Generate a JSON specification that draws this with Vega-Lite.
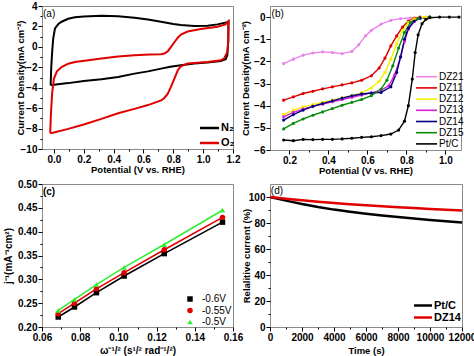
{
  "$schema": "https://vega.github.io/schema/vega-lite/v6.json",
  "padding": {"left": 2, "top": 0, "right": 0, "bottom": 0},
  "columns": 2,
  "spacing": {"row": 34, "column": 37},
  "bounds": "flush",
  "resolve": {
    "scale": {"color": "independent", "shape": "independent", "x": "independent", "y": "independent"},
    "legend": {"color": "independent", "shape": "independent"}
  },
  "config": {
    "font": "Liberation Sans",
    "view": {"stroke": "#8a8a8a", "strokeWidth": 1},
    "axis": {
      "grid": false, "domain": false, "tickColor": "black", "tickWidth": 1, "tickCount": 100,
      "labelOverlap": false, "labelBound": false, "labelFlush": false,
      "labelFont": "Liberation Sans", "labelFontWeight": "bold", "labelFontSize": 10, "labelColor": "black", "labelPadding": 1,
      "titleFont": "Liberation Sans", "titleFontWeight": "bold", "titleFontSize": 9.5, "titleColor": "black"
    },
    "legend": {"padding": 0, "labelFont": "Liberation Sans", "labelColor": "black", "titlePadding": 0}
  },
  "datasets": {
    "cv": [
      {"gas": "N₂", "i": 1, "v": -0.022, "j": -3.77},
      {"gas": "N₂", "i": 2, "v": -0.018, "j": -2.0},
      {"gas": "N₂", "i": 3, "v": -0.012, "j": -0.5},
      {"gas": "N₂", "i": 4, "v": -0.005, "j": 0.8},
      {"gas": "N₂", "i": 5, "v": 0.007, "j": 1.8},
      {"gas": "N₂", "i": 6, "v": 0.03, "j": 2.25},
      {"gas": "N₂", "i": 7, "v": 0.051, "j": 2.46},
      {"gas": "N₂", "i": 8, "v": 0.096, "j": 2.75},
      {"gas": "N₂", "i": 9, "v": 0.14, "j": 2.89},
      {"gas": "N₂", "i": 10, "v": 0.2, "j": 2.98},
      {"gas": "N₂", "i": 11, "v": 0.318, "j": 3.05},
      {"gas": "N₂", "i": 12, "v": 0.43, "j": 3.0},
      {"gas": "N₂", "i": 13, "v": 0.54, "j": 2.85},
      {"gas": "N₂", "i": 14, "v": 0.63, "j": 2.68},
      {"gas": "N₂", "i": 15, "v": 0.718, "j": 2.46},
      {"gas": "N₂", "i": 16, "v": 0.8, "j": 2.24},
      {"gas": "N₂", "i": 17, "v": 0.851, "j": 2.13},
      {"gas": "N₂", "i": 18, "v": 0.94, "j": 2.03},
      {"gas": "N₂", "i": 19, "v": 1.03, "j": 2.06},
      {"gas": "N₂", "i": 20, "v": 1.096, "j": 2.2},
      {"gas": "N₂", "i": 21, "v": 1.162, "j": 2.42},
      {"gas": "N₂", "i": 22, "v": 1.17, "j": 2.5},
      {"gas": "N₂", "i": 23, "v": 1.168, "j": 0.5},
      {"gas": "N₂", "i": 24, "v": 1.162, "j": -0.8},
      {"gas": "N₂", "i": 25, "v": 1.151, "j": -1.2},
      {"gas": "N₂", "i": 26, "v": 1.118, "j": -1.38},
      {"gas": "N₂", "i": 27, "v": 1.029, "j": -1.52},
      {"gas": "N₂", "i": 28, "v": 0.94, "j": -1.62},
      {"gas": "N₂", "i": 29, "v": 0.851, "j": -1.8},
      {"gas": "N₂", "i": 30, "v": 0.78, "j": -1.95},
      {"gas": "N₂", "i": 31, "v": 0.718, "j": -2.13},
      {"gas": "N₂", "i": 32, "v": 0.63, "j": -2.4},
      {"gas": "N₂", "i": 33, "v": 0.54, "j": -2.62},
      {"gas": "N₂", "i": 34, "v": 0.43, "j": -2.95},
      {"gas": "N₂", "i": 35, "v": 0.318, "j": -3.18},
      {"gas": "N₂", "i": 36, "v": 0.2, "j": -3.35},
      {"gas": "N₂", "i": 37, "v": 0.096, "j": -3.55},
      {"gas": "N₂", "i": 38, "v": 0.0, "j": -3.7},
      {"gas": "N₂", "i": 39, "v": -0.022, "j": -3.77},
      {"gas": "O₂", "i": 1, "v": -0.025, "j": -8.45},
      {"gas": "O₂", "i": 2, "v": -0.02, "j": -6.5},
      {"gas": "O₂", "i": 3, "v": -0.012, "j": -4.5},
      {"gas": "O₂", "i": 4, "v": 0.0, "j": -3.1},
      {"gas": "O₂", "i": 5, "v": 0.02, "j": -2.4},
      {"gas": "O₂", "i": 6, "v": 0.051, "j": -1.97},
      {"gas": "O₂", "i": 7, "v": 0.096, "j": -1.65},
      {"gas": "O₂", "i": 8, "v": 0.14, "j": -1.48},
      {"gas": "O₂", "i": 9, "v": 0.23, "j": -1.32},
      {"gas": "O₂", "i": 10, "v": 0.318, "j": -1.15},
      {"gas": "O₂", "i": 11, "v": 0.43, "j": -0.95},
      {"gas": "O₂", "i": 12, "v": 0.54, "j": -0.82},
      {"gas": "O₂", "i": 13, "v": 0.64, "j": -0.76},
      {"gas": "O₂", "i": 14, "v": 0.718, "j": -0.72},
      {"gas": "O₂", "i": 15, "v": 0.74, "j": -0.65},
      {"gas": "O₂", "i": 16, "v": 0.762, "j": -0.45},
      {"gas": "O₂", "i": 17, "v": 0.785, "j": 0.0},
      {"gas": "O₂", "i": 18, "v": 0.807, "j": 0.45},
      {"gas": "O₂", "i": 19, "v": 0.83, "j": 0.9},
      {"gas": "O₂", "i": 20, "v": 0.851, "j": 1.2},
      {"gas": "O₂", "i": 21, "v": 0.896, "j": 1.5},
      {"gas": "O₂", "i": 22, "v": 0.984, "j": 1.74},
      {"gas": "O₂", "i": 23, "v": 1.096, "j": 1.97},
      {"gas": "O₂", "i": 24, "v": 1.15, "j": 2.2},
      {"gas": "O₂", "i": 25, "v": 1.169, "j": 2.5},
      {"gas": "O₂", "i": 26, "v": 1.168, "j": 0.5},
      {"gas": "O₂", "i": 27, "v": 1.162, "j": -0.5},
      {"gas": "O₂", "i": 28, "v": 1.14, "j": -1.15},
      {"gas": "O₂", "i": 29, "v": 1.118, "j": -1.31},
      {"gas": "O₂", "i": 30, "v": 1.029, "j": -1.48},
      {"gas": "O₂", "i": 31, "v": 0.896, "j": -1.64},
      {"gas": "O₂", "i": 32, "v": 0.851, "j": -1.9},
      {"gas": "O₂", "i": 33, "v": 0.83, "j": -2.3},
      {"gas": "O₂", "i": 34, "v": 0.807, "j": -3.1},
      {"gas": "O₂", "i": 35, "v": 0.785, "j": -3.9},
      {"gas": "O₂", "i": 36, "v": 0.762, "j": -4.6},
      {"gas": "O₂", "i": 37, "v": 0.74, "j": -5.0},
      {"gas": "O₂", "i": 38, "v": 0.718, "j": -5.25},
      {"gas": "O₂", "i": 39, "v": 0.63, "j": -5.7},
      {"gas": "O₂", "i": 40, "v": 0.54, "j": -6.07},
      {"gas": "O₂", "i": 41, "v": 0.43, "j": -6.5},
      {"gas": "O₂", "i": 42, "v": 0.318, "j": -7.05},
      {"gas": "O₂", "i": 43, "v": 0.2, "j": -7.6},
      {"gas": "O₂", "i": 44, "v": 0.096, "j": -8.03},
      {"gas": "O₂", "i": 45, "v": 0.0, "j": -8.38},
      {"gas": "O₂", "i": 46, "v": -0.025, "j": -8.45}
    ],
    "lsv": [
      {"s": "DZ21", "v": 0.17, "j": -2.1}, {"s": "DZ21", "v": 0.22, "j": -1.9}, {"s": "DZ21", "v": 0.27, "j": -1.72},
      {"s": "DZ21", "v": 0.32, "j": -1.62}, {"s": "DZ21", "v": 0.37, "j": -1.57}, {"s": "DZ21", "v": 0.42, "j": -1.6},
      {"s": "DZ21", "v": 0.47, "j": -1.65}, {"s": "DZ21", "v": 0.52, "j": -1.55}, {"s": "DZ21", "v": 0.555, "j": -1.25},
      {"s": "DZ21", "v": 0.59, "j": -0.85}, {"s": "DZ21", "v": 0.62, "j": -0.6}, {"s": "DZ21", "v": 0.67, "j": -0.32},
      {"s": "DZ21", "v": 0.72, "j": -0.15}, {"s": "DZ21", "v": 0.77, "j": -0.07}, {"s": "DZ21", "v": 0.82, "j": -0.04},
      {"s": "DZ21", "v": 0.87, "j": -0.02}, {"s": "DZ21", "v": 0.9, "j": -0.01},
      {"s": "DZ11", "v": 0.17, "j": -3.75}, {"s": "DZ11", "v": 0.22, "j": -3.6}, {"s": "DZ11", "v": 0.27, "j": -3.45},
      {"s": "DZ11", "v": 0.32, "j": -3.35}, {"s": "DZ11", "v": 0.37, "j": -3.24}, {"s": "DZ11", "v": 0.42, "j": -3.15},
      {"s": "DZ11", "v": 0.47, "j": -3.06}, {"s": "DZ11", "v": 0.52, "j": -2.97}, {"s": "DZ11", "v": 0.57, "j": -2.85},
      {"s": "DZ11", "v": 0.62, "j": -2.65}, {"s": "DZ11", "v": 0.66, "j": -2.3}, {"s": "DZ11", "v": 0.69, "j": -1.85},
      {"s": "DZ11", "v": 0.72, "j": -1.3}, {"s": "DZ11", "v": 0.75, "j": -0.85}, {"s": "DZ11", "v": 0.78, "j": -0.45},
      {"s": "DZ11", "v": 0.81, "j": -0.18}, {"s": "DZ11", "v": 0.84, "j": -0.05}, {"s": "DZ11", "v": 0.87, "j": 0.0},
      {"s": "DZ12", "v": 0.17, "j": -4.4}, {"s": "DZ12", "v": 0.22, "j": -4.2}, {"s": "DZ12", "v": 0.27, "j": -4.05},
      {"s": "DZ12", "v": 0.32, "j": -3.95}, {"s": "DZ12", "v": 0.37, "j": -3.85}, {"s": "DZ12", "v": 0.42, "j": -3.75},
      {"s": "DZ12", "v": 0.47, "j": -3.65}, {"s": "DZ12", "v": 0.52, "j": -3.55}, {"s": "DZ12", "v": 0.57, "j": -3.42},
      {"s": "DZ12", "v": 0.62, "j": -3.2}, {"s": "DZ12", "v": 0.66, "j": -2.9}, {"s": "DZ12", "v": 0.69, "j": -2.5},
      {"s": "DZ12", "v": 0.72, "j": -1.9}, {"s": "DZ12", "v": 0.75, "j": -1.2}, {"s": "DZ12", "v": 0.78, "j": -0.6},
      {"s": "DZ12", "v": 0.81, "j": -0.25}, {"s": "DZ12", "v": 0.84, "j": -0.08}, {"s": "DZ12", "v": 0.88, "j": -0.01},
      {"s": "DZ12", "v": 0.9, "j": 0.0},
      {"s": "DZ13", "v": 0.17, "j": -4.5}, {"s": "DZ13", "v": 0.22, "j": -4.3}, {"s": "DZ13", "v": 0.27, "j": -4.15},
      {"s": "DZ13", "v": 0.32, "j": -4.03}, {"s": "DZ13", "v": 0.37, "j": -3.93}, {"s": "DZ13", "v": 0.42, "j": -3.82},
      {"s": "DZ13", "v": 0.47, "j": -3.72}, {"s": "DZ13", "v": 0.52, "j": -3.62}, {"s": "DZ13", "v": 0.57, "j": -3.52},
      {"s": "DZ13", "v": 0.62, "j": -3.42}, {"s": "DZ13", "v": 0.67, "j": -3.3}, {"s": "DZ13", "v": 0.71, "j": -3.1},
      {"s": "DZ13", "v": 0.74, "j": -2.6}, {"s": "DZ13", "v": 0.77, "j": -1.8}, {"s": "DZ13", "v": 0.79, "j": -1.1},
      {"s": "DZ13", "v": 0.81, "j": -0.55}, {"s": "DZ13", "v": 0.84, "j": -0.2}, {"s": "DZ13", "v": 0.87, "j": -0.05},
      {"s": "DZ13", "v": 0.92, "j": 0.0},
      {"s": "DZ14", "v": 0.17, "j": -4.65}, {"s": "DZ14", "v": 0.22, "j": -4.4}, {"s": "DZ14", "v": 0.27, "j": -4.2},
      {"s": "DZ14", "v": 0.32, "j": -4.03}, {"s": "DZ14", "v": 0.37, "j": -3.9}, {"s": "DZ14", "v": 0.42, "j": -3.78},
      {"s": "DZ14", "v": 0.47, "j": -3.66}, {"s": "DZ14", "v": 0.52, "j": -3.55}, {"s": "DZ14", "v": 0.57, "j": -3.47},
      {"s": "DZ14", "v": 0.62, "j": -3.43}, {"s": "DZ14", "v": 0.67, "j": -3.4}, {"s": "DZ14", "v": 0.72, "j": -3.15},
      {"s": "DZ14", "v": 0.75, "j": -2.5}, {"s": "DZ14", "v": 0.77, "j": -1.8}, {"s": "DZ14", "v": 0.79, "j": -1.0},
      {"s": "DZ14", "v": 0.81, "j": -0.5}, {"s": "DZ14", "v": 0.84, "j": -0.18}, {"s": "DZ14", "v": 0.87, "j": -0.05},
      {"s": "DZ14", "v": 0.92, "j": 0.0},
      {"s": "DZ15", "v": 0.17, "j": -5.05}, {"s": "DZ15", "v": 0.22, "j": -4.8}, {"s": "DZ15", "v": 0.27, "j": -4.6},
      {"s": "DZ15", "v": 0.32, "j": -4.43}, {"s": "DZ15", "v": 0.37, "j": -4.28}, {"s": "DZ15", "v": 0.42, "j": -4.13},
      {"s": "DZ15", "v": 0.47, "j": -3.98}, {"s": "DZ15", "v": 0.52, "j": -3.85}, {"s": "DZ15", "v": 0.57, "j": -3.72},
      {"s": "DZ15", "v": 0.62, "j": -3.55}, {"s": "DZ15", "v": 0.67, "j": -3.25}, {"s": "DZ15", "v": 0.7, "j": -2.85},
      {"s": "DZ15", "v": 0.73, "j": -2.2}, {"s": "DZ15", "v": 0.76, "j": -1.4}, {"s": "DZ15", "v": 0.79, "j": -0.7},
      {"s": "DZ15", "v": 0.82, "j": -0.25}, {"s": "DZ15", "v": 0.86, "j": -0.06}, {"s": "DZ15", "v": 0.92, "j": 0.0},
      {"s": "Pt/C", "v": 0.17, "j": -5.55}, {"s": "Pt/C", "v": 0.22, "j": -5.58}, {"s": "Pt/C", "v": 0.27, "j": -5.52},
      {"s": "Pt/C", "v": 0.32, "j": -5.53}, {"s": "Pt/C", "v": 0.37, "j": -5.52}, {"s": "Pt/C", "v": 0.42, "j": -5.52},
      {"s": "Pt/C", "v": 0.47, "j": -5.5}, {"s": "Pt/C", "v": 0.52, "j": -5.47}, {"s": "Pt/C", "v": 0.57, "j": -5.43},
      {"s": "Pt/C", "v": 0.62, "j": -5.4}, {"s": "Pt/C", "v": 0.67, "j": -5.35}, {"s": "Pt/C", "v": 0.72, "j": -5.28},
      {"s": "Pt/C", "v": 0.76, "j": -5.1}, {"s": "Pt/C", "v": 0.79, "j": -4.7}, {"s": "Pt/C", "v": 0.81, "j": -4.0},
      {"s": "Pt/C", "v": 0.83, "j": -2.8}, {"s": "Pt/C", "v": 0.845, "j": -1.6}, {"s": "Pt/C", "v": 0.86, "j": -0.8},
      {"s": "Pt/C", "v": 0.88, "j": -0.3}, {"s": "Pt/C", "v": 0.9, "j": -0.1}, {"s": "Pt/C", "v": 0.92, "j": -0.03},
      {"s": "Pt/C", "v": 0.97, "j": 0.0}, {"s": "Pt/C", "v": 1.02, "j": 0.0}, {"s": "Pt/C", "v": 1.07, "j": 0.0}
    ],
    "kl": [
      {"s": "-0.6V", "w": 0.0685, "j": 0.221}, {"s": "-0.6V", "w": 0.077, "j": 0.242}, {"s": "-0.6V", "w": 0.0885, "j": 0.272},
      {"s": "-0.6V", "w": 0.103, "j": 0.307}, {"s": "-0.6V", "w": 0.124, "j": 0.354}, {"s": "-0.6V", "w": 0.1545, "j": 0.42},
      {"s": "-0.55V", "w": 0.0685, "j": 0.228}, {"s": "-0.55V", "w": 0.077, "j": 0.25}, {"s": "-0.55V", "w": 0.0885, "j": 0.28},
      {"s": "-0.55V", "w": 0.103, "j": 0.314}, {"s": "-0.55V", "w": 0.124, "j": 0.362}, {"s": "-0.55V", "w": 0.1545, "j": 0.43},
      {"s": "-0.5V", "w": 0.0685, "j": 0.235}, {"s": "-0.5V", "w": 0.077, "j": 0.258}, {"s": "-0.5V", "w": 0.0885, "j": 0.289},
      {"s": "-0.5V", "w": 0.103, "j": 0.325}, {"s": "-0.5V", "w": 0.124, "j": 0.373}, {"s": "-0.5V", "w": 0.1545, "j": 0.445}
    ],
    "stab": [
      {"s": "Pt/C", "t": 0, "r": 100}, {"s": "Pt/C", "t": 500, "r": 98.6}, {"s": "Pt/C", "t": 1000, "r": 97.2},
      {"s": "Pt/C", "t": 2000, "r": 94.6}, {"s": "Pt/C", "t": 3000, "r": 92.3}, {"s": "Pt/C", "t": 4000, "r": 90.3},
      {"s": "Pt/C", "t": 5000, "r": 88.6}, {"s": "Pt/C", "t": 6000, "r": 87.1}, {"s": "Pt/C", "t": 7000, "r": 85.8},
      {"s": "Pt/C", "t": 8000, "r": 84.6}, {"s": "Pt/C", "t": 9000, "r": 83.4}, {"s": "Pt/C", "t": 10000, "r": 82.3},
      {"s": "Pt/C", "t": 11000, "r": 81.3}, {"s": "Pt/C", "t": 12000, "r": 80.3},
      {"s": "DZ14", "t": 0, "r": 100}, {"s": "DZ14", "t": 1000, "r": 98.7}, {"s": "DZ14", "t": 2000, "r": 97.5},
      {"s": "DZ14", "t": 3000, "r": 96.4}, {"s": "DZ14", "t": 4000, "r": 95.4}, {"s": "DZ14", "t": 5000, "r": 94.5},
      {"s": "DZ14", "t": 6000, "r": 93.7}, {"s": "DZ14", "t": 7000, "r": 92.9}, {"s": "DZ14", "t": 8000, "r": 92.2},
      {"s": "DZ14", "t": 9000, "r": 91.5}, {"s": "DZ14", "t": 10000, "r": 90.8}, {"s": "DZ14", "t": 11000, "r": 90.2},
      {"s": "DZ14", "t": 12000, "r": 89.6}
    ],
    "labels": [
      {"p": "a", "text": "(a)"}, {"p": "b", "text": "(b)"}, {"p": "c", "text": "(c)"}, {"p": "d", "text": "(d)"}
    ]
  },
  "concat": [
    {
      "width": 191, "height": 143,
      "layer": [
        {
          "data": {"name": "cv"},
          "mark": {"type": "line", "strokeWidth": 2},
          "encoding": {
            "x": {"field": "v", "type": "quantitative", "scale": {"domain": [-0.08, 1.2], "nice": false, "zero": false},
                  "axis": {"values": [0, 0.1, 0.2, 0.3, 0.4, 0.5, 0.6, 0.7, 0.8, 0.9, 1.0, 1.1, 1.2], "tickCount": 100, "format": ".1f", "labelOverlap": false,
                           "labelExpr": "round(datum.value*10) % 2 == 0 ? datum.label : ''",
                           "tickSize": {"condition": {"test": "round(datum.value*10) % 2 != 0", "value": 2}, "value": 4},
                           "title": "Potential (V vs. RHE)", "titleY": 15}},
            "y": {"field": "j", "type": "quantitative", "scale": {"domain": [-10, 4], "nice": false, "zero": false},
                  "axis": {"values": [-10, -9, -8, -7, -6, -5, -4, -3, -2, -1, 0, 1, 2, 3, 4], "tickCount": 100, "format": "d", "labelOverlap": false,
                           "labelExpr": "abs(round(datum.value)) % 2 == 0 ? datum.label : ''",
                           "tickSize": {"condition": {"test": "abs(round(datum.value)) % 2 != 0", "value": 2}, "value": 4},
                           "title": "Current Density(mA cm⁻²)", "titleX": -17}},
            "color": {"field": "gas", "type": "nominal", "scale": {"domain": ["N₂", "O₂"], "range": ["#000000", "#e00000"]},
                      "legend": {"orient": "none", "legendX": 162, "legendY": 116.5, "title": null, "symbolType": "M-3,0H3", "symbolSize": 40, "symbolStrokeWidth": 2.5, "labelFontSize": 11, "labelFontWeight": "bold", "labelOffset": 6, "rowPadding": 3}},
            "order": {"field": "i", "type": "quantitative"}
          }
        },
        {
          "data": {"name": "labels"},
          "transform": [{"filter": "datum.p == 'a'"}],
          "mark": {"type": "text", "align": "left", "baseline": "middle", "fontSize": 10, "color": "black"},
          "encoding": {"x": {"datum": -0.073}, "y": {"datum": 3.26}, "text": {"field": "text"}}
        }
      ]
    },
    {
      "width": 191, "height": 144,
      "layer": [
        {
          "data": {"name": "lsv"},
          "mark": {"type": "line", "strokeWidth": 1.4, "point": {"filled": true, "size": 10}},
          "encoding": {
            "x": {"field": "v", "type": "quantitative", "scale": {"domain": [0.1, 1.08], "nice": false, "zero": false},
                  "axis": {"values": [0.2, 0.3, 0.4, 0.5, 0.6, 0.7, 0.8, 0.9, 1.0], "tickCount": 100, "format": ".1f", "labelOverlap": false,
                           "labelExpr": "round(datum.value*10) % 2 == 0 ? datum.label : ''",
                           "tickSize": {"condition": {"test": "round(datum.value*10) % 2 != 0", "value": 2}, "value": 4},
                           "title": "Potential (V vs. RHE)", "titleY": 15}},
            "y": {"field": "j", "type": "quantitative", "scale": {"domain": [-6, 0.5], "nice": false, "zero": false},
                  "axis": {"values": [-6, -5.5, -5, -4.5, -4, -3.5, -3, -2.5, -2, -1.5, -1, -0.5, 0], "tickCount": 100, "format": "d", "labelOverlap": false,
                           "labelExpr": "datum.value == round(datum.value) ? datum.label : ''",
                           "tickSize": {"condition": {"test": "datum.value != round(datum.value)", "value": 2}, "value": 4},
                           "title": "Current Density(mA cm⁻²)", "titleX": -20}},
            "color": {"field": "s", "type": "nominal",
                      "scale": {"domain": ["DZ21", "DZ11", "DZ12", "DZ13", "DZ14", "DZ15", "Pt/C"], "range": ["#ea86ea", "#e00000", "#f2f200", "#d81ed8", "#000080", "#0a8a0a", "#000000"]},
                      "legend": {"orient": "none", "legendX": 151.5, "legendY": 65.7, "title": null, "symbolType": "M-3,0H3", "symbolSize": 49, "symbolStrokeWidth": 1.6, "labelFontSize": 10, "labelOffset": 7.5, "rowPadding": 1.2}}
          }
        },
        {
          "data": {"name": "labels"},
          "transform": [{"filter": "datum.p == 'b'"}],
          "mark": {"type": "text", "align": "left", "baseline": "middle", "fontSize": 10, "color": "black"},
          "encoding": {"x": {"datum": 0.108}, "y": {"datum": 0.14}, "text": {"field": "text"}}
        }
      ]
    },
    {
      "width": 191, "height": 143,
      "layer": [
        {
          "data": {"name": "kl"},
          "transform": [{"filter": "datum.s == '-0.6V'"}],
          "mark": {"type": "line", "strokeWidth": 1.6, "color": "#000000"},
          "encoding": {
            "x": {"field": "w", "type": "quantitative", "scale": {"domain": [0.06, 0.16], "nice": false, "zero": false},
                  "axis": {"values": [0.06, 0.07, 0.08, 0.09, 0.1, 0.11, 0.12, 0.13, 0.14, 0.15, 0.16], "tickCount": 100, "format": ".2f", "labelOverlap": false,
                           "labelExpr": "round(datum.value*100) % 2 == 0 ? datum.label : ''",
                           "tickSize": {"condition": {"test": "round(datum.value*100) % 2 != 0", "value": 2}, "value": 4},
                           "title": "ω⁻¹/² (s¹/² rad⁻¹/²)", "titleY": 18, "titleFontSize": 10}},
            "y": {"field": "j", "type": "quantitative", "scale": {"domain": [0.2, 0.5], "nice": false, "zero": false},
                  "axis": {"values": [0.2, 0.225, 0.25, 0.275, 0.3, 0.325, 0.35, 0.375, 0.4, 0.425, 0.45, 0.475, 0.5], "tickCount": 100, "format": ".2f", "labelOverlap": false,
                           "labelExpr": "round(datum.value*1000) % 50 == 0 ? datum.label : ''",
                           "tickSize": {"condition": {"test": "round(datum.value*1000) % 50 != 0", "value": 2}, "value": 4},
                           "title": "j⁻¹(mA⁻¹cm²)", "titleX": -29, "titleFontSize": 10}}
          }
        },
        {
          "data": {"name": "kl"},
          "transform": [{"filter": "datum.s == '-0.55V'"}],
          "mark": {"type": "line", "strokeWidth": 1.6, "color": "#e00000"},
          "encoding": {"x": {"field": "w", "type": "quantitative"}, "y": {"field": "j", "type": "quantitative"}}
        },
        {
          "data": {"name": "kl"},
          "transform": [{"filter": "datum.s == '-0.5V'"}],
          "mark": {"type": "line", "strokeWidth": 1.6, "color": "#33ee33"},
          "encoding": {"x": {"field": "w", "type": "quantitative"}, "y": {"field": "j", "type": "quantitative"}}
        },
        {
          "data": {"name": "kl"},
          "mark": {"type": "point", "filled": true, "size": 30, "opacity": 1},
          "encoding": {
            "x": {"field": "w", "type": "quantitative"},
            "y": {"field": "j", "type": "quantitative"},
            "color": {"field": "s", "type": "nominal", "scale": {"domain": ["-0.6V", "-0.55V", "-0.5V"], "range": ["#000000", "#e00000", "#33ee33"]},
                      "legend": {"orient": "none", "legendX": 143, "legendY": 110, "title": null, "symbolSize": 30, "labelFontSize": 10, "labelOffset": 7, "rowPadding": 1.5}},
            "shape": {"field": "s", "type": "nominal", "scale": {"domain": ["-0.6V", "-0.55V", "-0.5V"], "range": ["square", "circle", "triangle-up"]}}
          }
        },
        {
          "data": {"name": "labels"},
          "transform": [{"filter": "datum.p == 'c'"}],
          "mark": {"type": "text", "align": "left", "baseline": "middle", "fontSize": 10, "fontWeight": "bold", "color": "black"},
          "encoding": {"x": {"datum": 0.0605}, "y": {"datum": 0.483}, "text": {"field": "text"}}
        }
      ]
    },
    {
      "width": 192, "height": 143,
      "layer": [
        {
          "data": {"name": "stab"},
          "mark": {"type": "line", "strokeWidth": 2.5},
          "encoding": {
            "x": {"field": "t", "type": "quantitative", "scale": {"domain": [0, 12000], "nice": false},
                  "axis": {"values": [0, 1000, 2000, 3000, 4000, 5000, 6000, 7000, 8000, 9000, 10000, 11000, 12000], "tickCount": 100, "format": "d", "labelOverlap": false,
                           "labelExpr": "datum.value % 2000 == 0 ? datum.label : ''",
                           "tickSize": {"condition": {"test": "datum.value % 2000 != 0", "value": 2}, "value": 4},
                           "title": "Time (s)", "titleY": 18}},
            "y": {"field": "r", "type": "quantitative", "scale": {"domain": [0, 110], "nice": false},
                  "axis": {"values": [0, 10, 20, 30, 40, 50, 60, 70, 80, 90, 100], "tickCount": 100, "format": "d", "labelOverlap": false,
                           "labelExpr": "datum.value % 20 == 0 ? datum.label : ''",
                           "tickSize": {"condition": {"test": "datum.value % 20 != 0", "value": 2}, "value": 4},
                           "title": "Relalitive current (%)", "titleX": -19}},
            "color": {"field": "s", "type": "nominal", "scale": {"domain": ["Pt/C", "DZ14"], "range": ["#000000", "#e00000"]},
                      "legend": {"orient": "none", "legendX": 147.5, "legendY": 116, "title": null, "symbolType": "M-3,0H3", "symbolSize": 36, "symbolStrokeWidth": 2.5, "labelFontSize": 11, "labelFontWeight": "bold", "labelOffset": 5.5, "rowPadding": 0}}
          }
        },
        {
          "data": {"name": "labels"},
          "transform": [{"filter": "datum.p == 'd'"}],
          "mark": {"type": "text", "align": "left", "baseline": "middle", "fontSize": 10, "color": "black"},
          "encoding": {"x": {"datum": 50}, "y": {"datum": 104.9}, "text": {"field": "text"}}
        }
      ]
    }
  ]
}
